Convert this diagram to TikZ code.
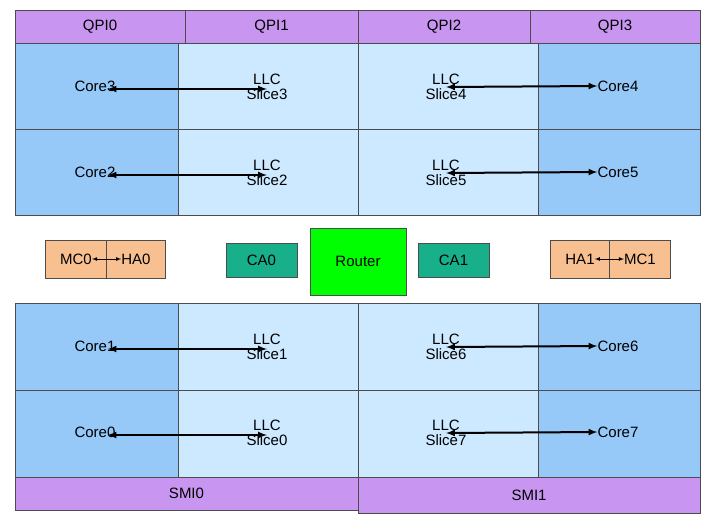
\documentclass[tikz,border=0pt]{standalone}
\usepackage{fontspec}
\setmainfont{Liberation Sans}
\usepackage{tikz}
\usetikzlibrary{positioning}
\definecolor{qpi}{RGB}{200,150,240}
\definecolor{corebg}{RGB}{150,200,248}
\definecolor{slicebg}{RGB}{205,233,255}
\definecolor{mcbg}{RGB}{248,192,144}
\definecolor{cabg}{RGB}{24,176,138}
\tikzset{cell/.style={draw=black!70,thin},
  lbl/.style={font=\fontsize{15}{15}\selectfont,inner sep=0pt},
  link/.style={line width=2pt,<->,>=latex}}
\begin{document}
\begin{tikzpicture}[x=1pt,y=-1pt]
\useasboundingbox[fill=white] (0,0) rectangle (717,525);
% top QPI bar
\foreach \a/\b/\t in {15/185/QPI0,185/358/QPI1,358/530/QPI2,530/700/QPI3}
  \draw[cell,fill=qpi] (\a,10) rectangle node[lbl]{\t} (\b,43);
% core and slice cells
\foreach \ya/\yb in {43/129,129/215,303/390,390/477}{
  \draw[cell,fill=corebg] (15,\ya) rectangle (178,\yb);
  \draw[cell,fill=slicebg] (178,\ya) rectangle (358,\yb);
  \draw[cell,fill=slicebg] (358,\ya) rectangle (538,\yb);
  \draw[cell,fill=corebg] (538,\ya) rectangle (700,\yb);
}
% bottom SMI bar
\draw[cell,fill=qpi] (15,477) rectangle node[lbl]{SMI0} (358,510);
\draw[cell,fill=qpi] (358,477) rectangle node[lbl]{SMI1} (700,513);
% cores and slices
\foreach \n/\s/\y in {3/3/86,2/2/172,1/1/346,0/0/432}{
  \node[lbl] (core\n) at (95,\y) {Core\n};
  \node[lbl,align=center] (slice\s) at (267,\y+1) {LLC\\Slice\s};
  \draw[link] (core\n.east) ++(-8,3) coordinate (p\n) -- (p\n -| slice\s.center);
}
\foreach \n/\s/\y in {4/4/86,5/5/172,6/6/346,7/7/432}{
  \node[lbl] (core\n) at (618,\y) {Core\n};
  \node[lbl,align=center] (slice\s) at (446,\y+1) {LLC\\Slice\s};
  \draw[link] (slice\s.center) -- (core\n.west);
}
% middle row
\draw[cell,fill=mcbg] (45,240) rectangle (165,278);
\draw[cell] (106,240) -- (106,278);
\node[lbl] (mc0) at (76,259) {MC0};
\node[lbl] (ha0) at (136,259) {HA0};
\draw[thick,<->,>=latex] (mc0.east) -- (ha0.west);
\draw[cell,fill=mcbg] (550,240) rectangle (670,278);
\draw[cell] (609,240) -- (609,278);
\node[lbl] (ha1) at (580,259) {HA1};
\node[lbl] (mc1) at (640,259) {MC1};
\draw[thick,<->,>=latex] (ha1.east) -- (mc1.west);
\node[cell,fill=cabg,lbl,minimum width=71pt,minimum height=34pt] (ca0) at (261.5,260) {CA0};
\node[cell,fill=cabg,lbl,minimum width=71pt,minimum height=34pt] (ca1) at (453.5,260) {CA1};
\node[cell,fill=green,lbl,minimum width=96pt,minimum height=67pt] (router) at (358,261.5) {Router};
\end{tikzpicture}
\end{document}
